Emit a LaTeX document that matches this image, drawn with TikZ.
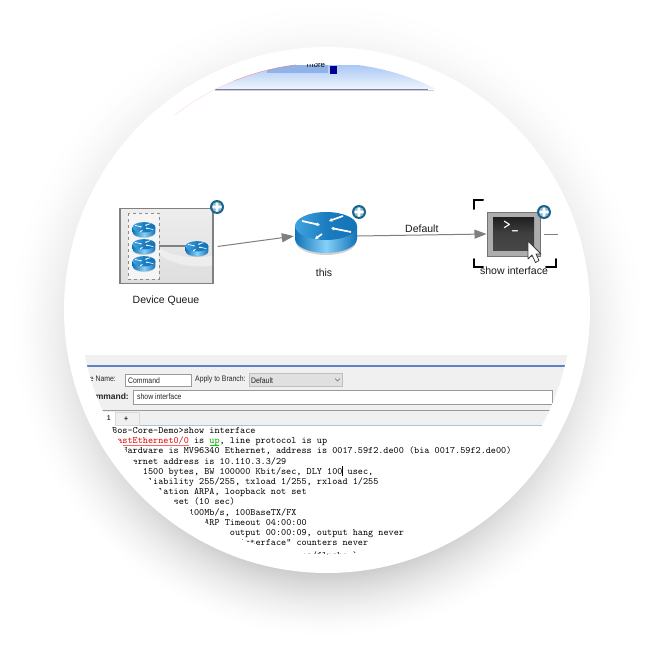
\documentclass[tikz,border=0pt]{standalone}
\usepackage{fontspec}
\setmainfont{Liberation Sans}
\usetikzlibrary{arrows.meta}
\definecolor{plusblue}{HTML}{1F7FAE}
\definecolor{linkgray}{HTML}{7F7F7F}
\definecolor{panelgray}{HTML}{F0F0F0}
\definecolor{rulegray}{HTML}{9A9A9A}
\definecolor{paneledge}{HTML}{5C82C4}
\definecolor{routerhi}{HTML}{86D0F7}
\definecolor{routermid}{HTML}{3FA4E0}
\definecolor{routerlo}{HTML}{1273B8}
\definecolor{bannertop}{HTML}{A9C8F4}
\definecolor{bannerlow}{HTML}{EDF3FD}
\definecolor{bannerband}{HTML}{8FB2E8}
\tikzset{
  x=1pt,y=-1pt,
  flow/.style={draw=linkgray,line width=1pt,-{Triangle[length=12pt,width=9pt]}},
  caption/.style={inner sep=0pt,font=\fontsize{10.5}{12}\selectfont,text=black!90},
  formtext/.style={inner sep=0pt,anchor=west,xscale=.86,font=\fontsize{8}{10}\selectfont,text=black!85},
  formbox/.style={draw=rulegray,fill=white,line width=.8pt},
  termtext/.style={inner sep=0pt,anchor=base west,font=\fontsize{9.75}{10}\ttfamily,text=black},
  bracket/.style={line width=2pt,black,line cap=round},
  rarrow/.style={white,line width=1.7pt,-{Triangle[length=3.2pt,width=3.4pt]}},
  smallrouter/.style={scale=.37,rarrow/.style={white,line width=.7pt,-{Triangle[length=1.4pt,width=1.6pt]}}},
  routerpic/.pic={
    \fill[black!35,opacity=.5] (-30,6) arc[start angle=180,end angle=360,x radius=30pt,y radius=13pt] -- cycle;
    \path[left color=routerlo,right color=routerlo,middle color=routerhi]
      (-31,-10) -- (-31,3) arc[start angle=180,end angle=360,x radius=31pt,y radius=14pt] -- (31,-10) -- cycle;
    \path[left color=routermid,right color=routerlo,middle color=routerlo!80!routermid]
      (0,-10) ellipse[x radius=31pt,y radius=14pt];
    \draw[rarrow] (-24,-15) -- (-6,-11);
    \draw[rarrow] (-4,-2) -- (-11,3);
    \draw[rarrow] (17,-20) -- (3,-15);
    \draw[rarrow] (25,-4) -- (5,-8);
  },
  plusicon/.pic={
    \fill[plusblue!80!black] (0,0) circle[radius=7pt];
    \fill[plusblue!55!white] (0,0) circle[radius=5pt];
    \fill[white] (-4.5,-1.4) rectangle (4.5,1.4) (-1.4,-4.5) rectangle (1.4,4.5);
  }
}
\begin{document}
\begin{tikzpicture}
  \useasboundingbox (0,0) rectangle (653,653);
  \foreach \t in {0,0.02,...,1} {
    \pgfmathsetmacro{\shade}{26*\t^1.6}
    \fill[black!\shade] (327,{320+37*\t}) circle[radius={(318-113*\t)*1pt}];
  }
  \fill[white] (327,310) circle[radius=263pt];
  \begin{scope}
    \clip (326,308.5) circle[radius=245.5pt];
    \path[top color=bannertop,bottom color=bannerlow] (215,65) rectangle (435,88);
    \fill[bannerband] (267,65) rectangle (328,73);
    \node[inner sep=0pt,font=\fontsize{8}{10}\selectfont] (moretext) at (316,65) {more};
    \fill[blue!60!black] (330,66) rectangle (337,74);
    \fill[rulegray!80!blue] (215,88.5) rectangle (428,90);
    \fill[rulegray!50!white] (215,90) rectangle (434,91);
    \fill[panelgray] (80,355) rectangle (570,426);
    \fill[paneledge] (80,365.2) rectangle (570,366.6);
    \fill[paneledge!50] (80,425.2) rectangle (570,426.2);
    \fill[white] (100,412) rectangle (115,426);
    \draw[formbox] (125,374) rectangle (191,386);
    \draw[draw=black!25,fill=black!12] (249,373) rectangle (342,386);
    \draw[black!60,line width=.6pt] (335,378.5) -- (337.5,381) -- (340,378.5);
    \draw[formbox] (133,390) rectangle (552,404);
    \fill[rulegray] (100,409.6) rectangle (570,410.6);
    \draw[black!15,fill=panelgray] (115,412) rectangle (139,425.5);
    \node[formtext,anchor=east] (namelabel) at (116,379) {e Name:};
    \node[formtext] (nametext) at (128,380.5) {Command};
    \node[formtext] (branchlabel) at (195,379) {Apply to Branch:};
    \node[formtext] (branchtext) at (251,380.5) {Default};
    \node[formtext,xscale=1.16,anchor=east,font=\fontsize{8.5}{10}\bfseries] (cmdlabel) at (129,396.5) {Command:};
    \node[formtext] (cmdtext) at (137,397) {show interface};
    \node[formtext,font=\fontsize{7}{10}\bfseries] (tabone) at (107,418) {1};
    \node[formtext,font=\fontsize{8}{10}\bfseries] (tabplus) at (124,419) {+};
    \foreach \col/\row/\txt in {
        0/0/{Bos-Core-Demo>show interface},
        16/1/{is},
        21/1/{, line protocol is up},
        2/2/{Hardware is MV96340 Ethernet, address is 0017.59f2.de00 (bia 0017.59f2.de00)},
        3/3/{ternet address is 10.110.3.3/29},
        6/4/{1500 bytes, BW 100000 Kbit/sec, DLY 100 usec,},
        7/5/{liability 255/255, txload 1/255, rxload 1/255},
        9/6/{lation ARPA, loopback not set},
        12/7/{set (10 sec)},
        15/8/{100Mb/s, 100BaseTX/FX},
        18/9/{ARP Timeout 04:00:00},
        23/10/{output 00:00:09, output hang never},
        25/11/{interface" counters never}}
      \node[termtext] (row\row col\col) at ({112+\col*5.12},{433.5+\row*10.2}) {\txt};
    \node[termtext] (rowlast) at (286,558) {drops/flushes);};
    \node[termtext,text=red!90!black] (ethname) at ({112+1*5.12},{433.5+10.2}) {astEthernet0/0};
    \node[termtext,text=green!70!black] (ethup) at ({112+19*5.12},{433.5+10.2}) {up};
    \draw[red!60,line width=1pt] (123,445) -- (189,445);
    \draw[green!80!black,line width=1pt] (209.5,445) -- (219,445);
    \draw[black,line width=.7pt] (342.7,466) -- (342.7,476);

    \node[draw=black!50,line width=1.5pt,minimum width=93pt,minimum height=75pt,inner sep=0pt,
      top color=black!7,bottom color=black!13] (queue) at (166.5,246) {};
    \fill[white,opacity=.4] (159,248) .. controls (175,258) and (195,258) .. (212,256) -- (212,266) .. controls (190,268) and (172,264) .. (159,254) -- cycle;
    \draw[dashed,draw=black!45,fill=black!4,line width=.8pt] (128,213) rectangle (159,279);
    \draw[black!50,line width=1.5pt] (159,246) -- (186,246);
    \pic[smallrouter] at (144,231) {routerpic};
    \pic[smallrouter] at (144,248) {routerpic};
    \pic[smallrouter] at (144,265) {routerpic};
    \pic[smallrouter] at (197,250) {routerpic};
    \pic at (217,207) {plusicon};
    \node[caption] (queuelabel) at (166,300.5) {Device Queue};

    \node[minimum width=62pt,minimum height=42pt,inner sep=0pt] (this) at (326,236) {};
    \pic at (326,236) {routerpic};
    \pic at (359,212) {plusicon};
    \node[caption] (thislabel) at (324,273) {this};

    \node[draw=black!55,fill=black!32,line width=1pt,minimum width=53pt,minimum height=44pt,inner sep=0pt] (term) at (513.5,234) {};
    \path[top color=black!88,bottom color=black!72,middle color=black!75] (493,217) rectangle (534,250);
    \node[inner sep=0pt,text=white,font=\fontsize{15}{15}\ttfamily\bfseries] (prompt) at (511,227) {>\_};
    \pic at (544,212) {plusicon};
    \coordinate (termout) at (558,234);
    \draw[bracket] (483,200) -- (474,200) -- (474,209);
    \draw[bracket] (474,259) -- (474,267) -- (483,267);
    \draw[bracket] (556,259) -- (556,267) -- (546,267);
    \node[caption] (termlabel) at (514,270.5) {show interface};
    \draw[fill=white,draw=black!75,line width=.8pt,line join=round]
      (528,241) -- (528,259) -- (532,255) -- (535.5,262.5) -- (539,260.5) -- (536,254) -- (541,254) -- cycle;

    \begin{scope}[flow]
      \draw[shorten <=4pt,shorten >=1pt] (queue.east) ++(0,1) to (this.west);
      \draw[shorten >=0pt] (this.east) to node[caption,above=1.5pt] (linklabel) {Default} (term.west);
    \end{scope}
    \draw[linkgray,line width=1pt,shorten <=3pt] (term.east) to (termout);
  \end{scope}
  \draw[red!50,line width=.5pt,opacity=.7] (326,308.5) ++(97:245.5pt) arc[start angle=97,end angle=112,radius=245.5pt];
  \draw[red!30,line width=.3pt,opacity=.6] (326,308.5) ++(112:245.5pt) arc[start angle=112,end angle=128,radius=245.5pt];
\end{tikzpicture}
\end{document}
